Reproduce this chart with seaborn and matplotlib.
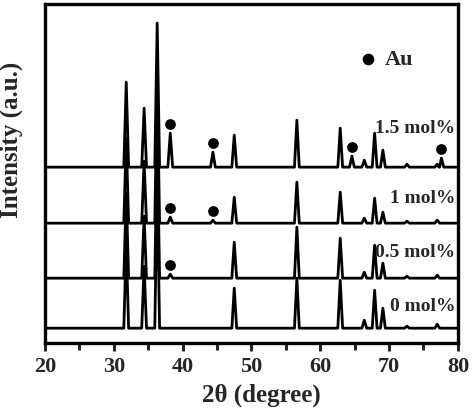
"""XRD patterns of ZnO with increasing Au loading, stacked traces."""
import pandas as pd
import seaborn as sns
import matplotlib.pyplot as plt
from matplotlib.ticker import MultipleLocator

SAMPLES = ["0 mol%", "0.5 mol%", "1 mol%", "1.5 mol%"]
OFFSETS = [15, 65, 120, 176]

ZNO_PEAKS = [31.8, 34.4, 36.3, 47.5, 56.6, 62.9, 66.4, 67.9, 69.1, 72.6, 77.0]
ZNO_HEIGHTS = {
    "0 mol%": [85, 62, 145, 40, 50, 48, 8, 38, 20, 2, 4],
    "0.5 mol%": [85, 62, 145, 36, 51, 40, 6, 33, 15, 2, 3],
    "1 mol%": [85, 62, 145, 26, 41, 31, 5, 25, 11, 2, 3],
    "1.5 mol%": [85, 59, 144, 32, 47, 39, 7, 34, 17, 3, 3],
}

AU_PEAKS = [38.2, 44.4, 64.6, 77.6]
AU_HEIGHTS = {
    "0 mol%": [0, 0, 0, 0],
    "0.5 mol%": [4, 0, 0, 0],
    "1 mol%": [6, 3, 0, 0],
    "1.5 mol%": [34, 15, 11, 9],
}
AU_MARKED = {
    "0 mol%": [],
    "0.5 mol%": [38.2],
    "1 mol%": [38.2, 44.4],
    "1.5 mol%": [38.2, 44.4, 64.6, 77.6],
}

X_RANGE = (20, 80)
HALF_WIDTH = 0.35
DOT_GAP = 9
SERIF = ["Liberation Serif", "DejaVu Serif"]


def build_traces() -> pd.DataFrame:
    rows = []
    for sample, base in zip(SAMPLES, OFFSETS):
        peaks = list(zip(ZNO_PEAKS, ZNO_HEIGHTS[sample])) + list(zip(AU_PEAKS, AU_HEIGHTS[sample]))
        pts = [(X_RANGE[0], base), (X_RANGE[1], base)]
        for pos, h in peaks:
            if h <= 0:
                continue
            pts += [(pos - HALF_WIDTH, base), (pos, base + h), (pos + HALF_WIDTH, base)]
        pts.sort()
        rows += [{"sample": sample, "two_theta": x, "intensity": y} for x, y in pts]
    return pd.DataFrame(rows)


def build_dots() -> pd.DataFrame:
    rows = []
    for sample, base in zip(SAMPLES, OFFSETS):
        for pos in AU_MARKED[sample]:
            h = AU_HEIGHTS[sample][AU_PEAKS.index(pos)]
            rows.append({"two_theta": pos, "y": base + h + DOT_GAP})
    return pd.DataFrame(rows)


def main() -> None:
    sns.set_theme(style="ticks")
    plt.rcParams["font.family"] = SERIF
    plt.rcParams["font.weight"] = "bold"

    fig = plt.figure(figsize=(4.74, 4.11), dpi=100)
    ax = fig.add_axes([0.095, 0.165, 0.871, 0.825])

    traces = build_traces()
    sns.lineplot(data=traces, x="two_theta", y="intensity", hue="sample", units="sample",
                 estimator=None, sort=False, palette=["black"] * 4, legend=False,
                 linewidth=2.0, ax=ax)
    dots = build_dots()
    sns.scatterplot(data=dots, x="two_theta", y="y", color="black", s=60, linewidth=0, ax=ax)

    label_y = [37, 91, 145, 215]
    for sample, y in zip(SAMPLES, label_y):
        ax.text(79.6, y, sample, ha="right", va="center", fontsize=14, fontweight="bold")

    ax.scatter([66.9], [284], s=70, color="black", linewidth=0)
    ax.text(69.4, 283, "Au", ha="left", va="center", fontsize=16, fontweight="bold")

    ax.set_xlim(*X_RANGE)
    ax.set_ylim(0, 339)
    ax.xaxis.set_major_locator(MultipleLocator(10))
    ax.xaxis.set_minor_locator(MultipleLocator(5))
    ax.set_yticks([])
    ax.tick_params(axis="x", which="major", direction="out", length=6, width=2.2, pad=4, labelsize=16)
    ax.tick_params(axis="x", which="minor", direction="out", length=5, width=2.2)
    for label in ax.get_xticklabels():
        label.set_fontweight("bold")
    for spine in ax.spines.values():
        spine.set_visible(True)
        spine.set_linewidth(2.4)
        spine.set_color("black")

    ax.set_xlabel("2θ (degree)", fontsize=18, fontweight="bold")
    ax.xaxis.set_label_coords(0.525, -0.118)
    ax.set_ylabel("Intensity (a.u.)", fontsize=18, fontweight="bold")
    ax.yaxis.set_label_coords(-0.053, 0.6)

    fig.savefig("out.png", dpi=100)
    plt.close(fig)


if __name__ == "__main__":
    main()
